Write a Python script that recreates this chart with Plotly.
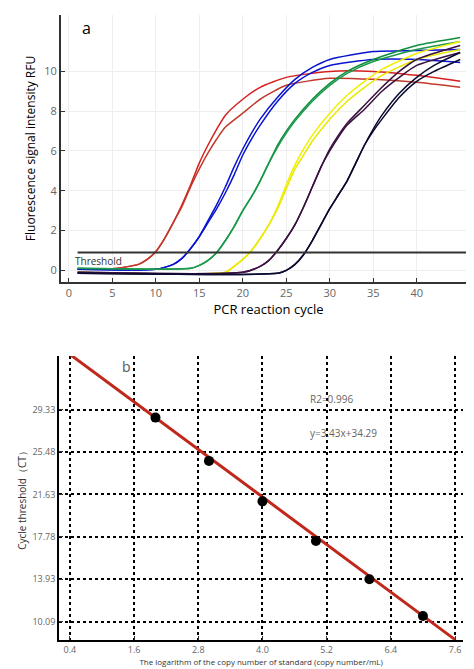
import plotly.graph_objects as go
from plotly.subplots import make_subplots

# ---- panel a: amplification curves (cycle, RFU) ----
CYC_RED = [1, 5, 8, 9, 10, 11, 12, 13, 14, 15, 16, 17, 18, 20, 22, 25, 30, 35, 40, 45]
RED1 = [0.05, 0.08, 0.3, 0.55, 0.95, 1.6, 2.4, 3.3, 4.3, 5.4, 6.3, 7.1, 7.8, 8.6, 9.2, 9.7, 10.0, 10.0, 9.8, 9.5]
RED2 = [0.05, 0.08, 0.3, 0.55, 0.95, 1.6, 2.4, 3.2, 4.2, 5.1, 5.9, 6.6, 7.2, 7.9, 8.6, 9.3, 9.65, 9.6, 9.45, 9.2]

CYC_BLUE = [1, 10, 12, 13, 14, 15, 16, 17, 18, 19, 20, 21, 22, 24, 26, 28, 30, 35, 40, 45]
BLUE1 = [0.05, 0.05, 0.3, 0.6, 1.1, 1.7, 2.5, 3.3, 4.2, 5.2, 6.1, 6.9, 7.6, 8.7, 9.6, 10.2, 10.6, 11.0, 11.05, 11.1]
BLUE2 = [0.05, 0.05, 0.3, 0.6, 1.1, 1.7, 2.4, 3.1, 3.9, 4.8, 5.8, 6.6, 7.3, 8.5, 9.4, 9.95, 10.3, 10.6, 10.6, 10.45]

CYC_GREEN = [1, 14, 15, 16, 17, 18, 19, 20, 21, 22, 23, 24, 25, 26, 28, 30, 32, 35, 40, 45]
GREEN1 = [0.1, 0.1, 0.25, 0.5, 0.9, 1.5, 2.2, 3.0, 3.7, 4.5, 5.4, 6.3, 7.0, 7.6, 8.6, 9.4, 10.0, 10.6, 11.3, 11.7]
GREEN2 = [0.1, 0.1, 0.25, 0.5, 0.9, 1.5, 2.2, 3.0, 3.7, 4.5, 5.4, 6.2, 6.9, 7.5, 8.5, 9.3, 9.9, 10.5, 11.1, 11.5]

CYC_YELLOW = [1, 18, 19, 20, 21, 22, 23, 24, 25, 26, 27, 28, 30, 32, 34, 36, 40, 45]
YELLOW1 = [-0.1, -0.1, 0.2, 0.55, 1.0, 1.6, 2.3, 3.2, 4.3, 5.3, 6.1, 6.8, 7.9, 8.8, 9.5, 10.1, 10.9, 11.5]
YELLOW2 = [-0.1, -0.1, 0.2, 0.55, 1.0, 1.6, 2.3, 3.1, 4.1, 5.1, 5.8, 6.5, 7.6, 8.5, 9.2, 9.8, 10.6, 11.1]

CYC_PURPLE = [1, 20, 22, 23, 24, 25, 26, 27, 28, 29, 30, 31, 32, 34, 36, 38, 40, 45]
PURPLE1 = [-0.1, -0.1, 0.2, 0.5, 1.0, 1.6, 2.3, 3.2, 4.2, 5.2, 6.1, 6.8, 7.4, 8.3, 9.2, 10.0, 10.6, 11.3]
PURPLE2 = [-0.1, -0.1, 0.2, 0.5, 1.0, 1.6, 2.3, 3.2, 4.2, 5.2, 6.0, 6.7, 7.3, 8.1, 9.0, 9.7, 10.3, 10.95]

CYC_BLACK = [1, 24, 25, 26, 27, 28, 29, 30, 31, 32, 33, 34, 35, 36, 38, 40, 42, 45]
BLACK1 = [-0.15, -0.15, 0.0, 0.3, 0.8, 1.5, 2.3, 3.1, 3.8, 4.5, 5.4, 6.3, 7.1, 7.8, 8.9, 9.7, 10.3, 10.95]
BLACK2 = [-0.15, -0.15, 0.0, 0.3, 0.8, 1.5, 2.3, 3.1, 3.8, 4.5, 5.4, 6.3, 7.0, 7.6, 8.7, 9.5, 10.0, 10.6]

THRESHOLD = 0.9
THRESH_X = [1, 46.8]

# ---- panel b: standard curve ----
LOG_COPIES = [2, 3, 4, 5, 6, 7]
CT = [28.6, 24.67, 21.0, 17.4, 13.93, 10.6]
FIT_X = [0.3, 7.6]
FIT_Y = [34.7, 8.45]
CT_TICKS = [29.33, 25.48, 21.63, 17.78, 13.93, 10.09]
LOG_TICKS = [0.4, 1.6, 2.8, 4.0, 5.2, 6.4, 7.6]

fig = make_subplots(rows=2, cols=1)

curves = [
    (CYC_RED, RED1, '#d62020'), (CYC_RED, RED2, '#c0392b'),
    (CYC_BLUE, BLUE1, '#0a14d0'), (CYC_BLUE, BLUE2, '#0a14d0'),
    (CYC_GREEN, GREEN1, '#0f8f3c'), (CYC_GREEN, GREEN2, '#1a9a4a'),
    (CYC_YELLOW, YELLOW1, '#f2f000'), (CYC_YELLOW, YELLOW2, '#e8e800'),
    (CYC_PURPLE, PURPLE1, '#3a1040'), (CYC_PURPLE, PURPLE2, '#3a1040'),
    (CYC_BLACK, BLACK1, '#0a0a30'), (CYC_BLACK, BLACK2, '#0a0a30'),
]
for xs, ys, col in curves:
    fig.add_trace(go.Scatter(x=xs, y=ys, mode='lines', line=dict(color=col, width=1.5, shape='spline', smoothing=0.6),
                             showlegend=False), row=1, col=1)
fig.add_trace(go.Scatter(x=THRESH_X, y=[THRESHOLD, THRESHOLD], mode='lines',
                         line=dict(color='#333', width=2), showlegend=False), row=1, col=1)

fig.add_trace(go.Scatter(x=FIT_X, y=FIT_Y, mode='lines', line=dict(color='#c0281c', width=3),
                         showlegend=False), row=2, col=1)
fig.add_trace(go.Scatter(x=LOG_COPIES, y=CT, mode='markers', marker=dict(color='black', size=10),
                         showlegend=False), row=2, col=1)

fig.update_layout(
    width=474, height=669, margin=dict(l=0, r=0, t=0, b=0),
    plot_bgcolor='white', paper_bgcolor='white',
    font=dict(family='Open Sans, sans-serif', color='#666'),
    xaxis=dict(domain=[0.112, 0.987], range=[-0.9, 46.8], tickvals=[0, 5, 10, 15, 20, 25, 30, 35, 40],
               showgrid=True, gridcolor='#eeeeee', zeroline=False, showline=True, linecolor='#333', linewidth=2,
               ticks='inside', ticklen=4, tickcolor='#333', tickfont=dict(size=11),
               title=dict(text='PCR reaction cycle', font=dict(size=13, color='black'), standoff=4)),
    yaxis=dict(domain=[0.59, 0.99], range=[-0.6, 12.85], tickvals=[0, 2, 4, 6, 8, 10],
               showgrid=True, gridcolor='#eeeeee', zeroline=False, showline=True, linecolor='#333', linewidth=2,
               ticks='inside', ticklen=4, tickcolor='#333', tickfont=dict(size=11),
               title=dict(text='Fluorescence signal intensity RFU', font=dict(size=12, color='black'), standoff=6)),
    xaxis2=dict(domain=[0.108, 0.96], range=[0.2, 7.75], tickvals=LOG_TICKS,
                ticktext=['0.4', '1.6', '2.8', '4.0', '5.2', '6.4', '7.6'],
                showgrid=True, gridcolor='black', griddash='dot', gridwidth=1.5, zeroline=False,
                showline=True, linecolor='black', linewidth=2, ticks='inside', ticklen=4, tickcolor='#333',
                tickfont=dict(size=9),
                title=dict(text='The logarithm of the copy number of standard (copy number/mL)',
                           font=dict(size=8, color='#333'), standoff=2)),
    yaxis2=dict(domain=[0.055, 0.48], range=[8.4, 34.2], tickvals=CT_TICKS,
                ticktext=[f'{v:.2f}' for v in CT_TICKS],
                showgrid=True, gridcolor='black', griddash='dot', gridwidth=1.5, zeroline=False,
                showline=True, linecolor='black', linewidth=2, ticks='inside', ticklen=4, tickcolor='#333',
                tickfont=dict(size=9),
                title=dict(text='Cycle threshold（CT）', font=dict(size=10, color='#333'), standoff=4)),
)

fig.add_annotation(x=2.0, y=12.2, xref='x', yref='y', text='a', showarrow=False, font=dict(size=16, color='black'))
fig.add_annotation(x=0.5, y=THRESHOLD, xref='x', yref='y', text='Threshold', showarrow=False,
                   xanchor='left', yanchor='top', font=dict(size=10, color='#333'))
fig.add_annotation(x=1.45, y=33.2, xref='x2', yref='y2', text='b', showarrow=False, font=dict(size=14, color='#555'))
fig.add_annotation(x=4.85, y=30.3, xref='x2', yref='y2', text='R2=0.996', showarrow=False, xanchor='left',
                   font=dict(size=10, color='#666'))
fig.add_annotation(x=4.85, y=27.2, xref='x2', yref='y2', text='y=3.43x+34.29', showarrow=False, xanchor='left',
                   font=dict(size=10, color='#666'))

fig.write_html("out.html")
